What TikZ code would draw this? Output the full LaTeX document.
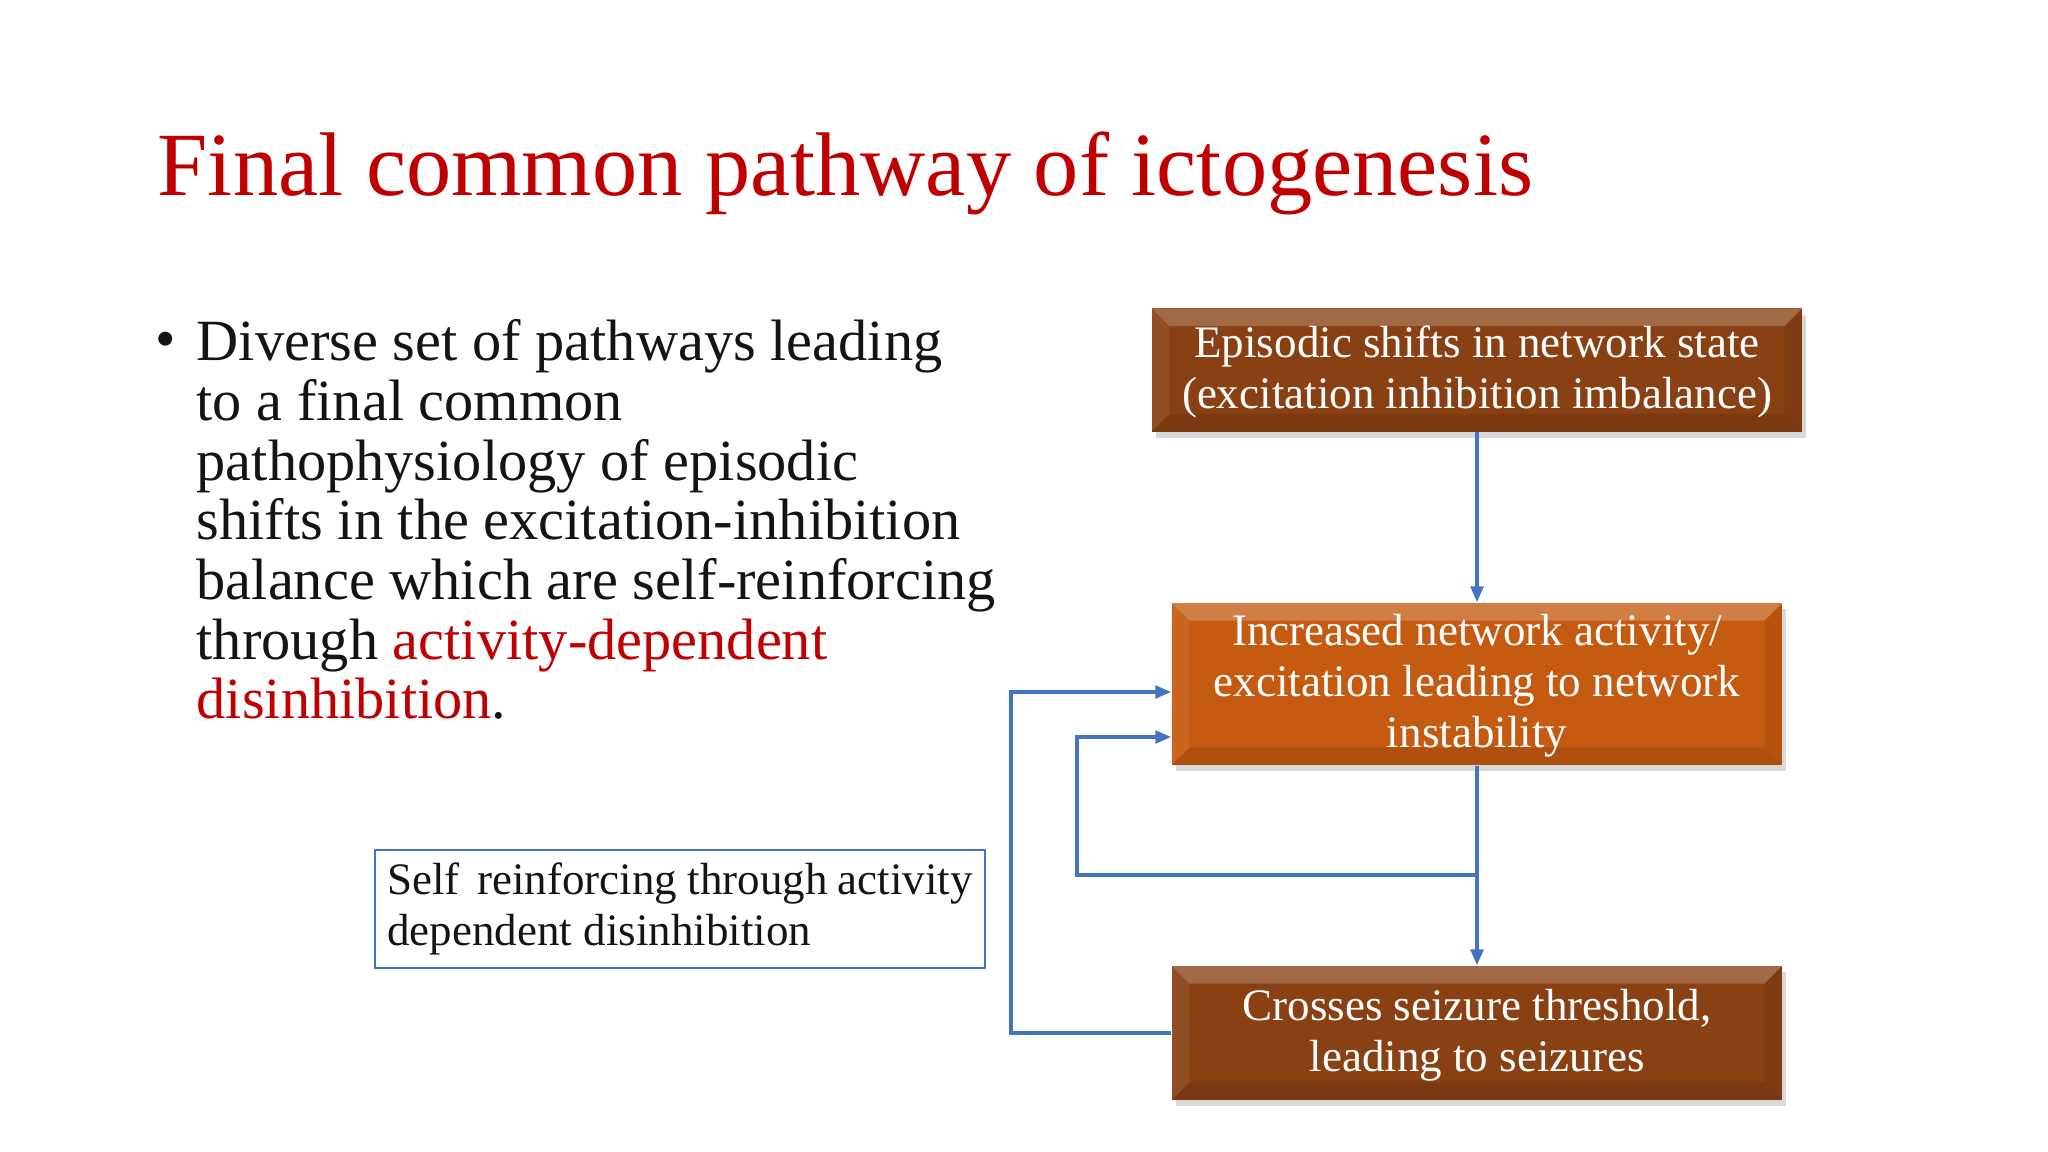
\documentclass[tikz,border=0pt]{standalone}
\usepackage{fontspec}
\setmainfont{Liberation Serif}
\usetikzlibrary{arrows.meta, positioning, shadows}

\definecolor{titlered}{RGB}{192,0,0}
\definecolor{brownbox}{RGB}{137,64,19}
\definecolor{orangebox}{RGB}{197,90,17}
\definecolor{linkblue}{RGB}{68,114,196}
\definecolor{ink}{RGB}{20,20,20}

\begin{document}
\begin{tikzpicture}[
    x=0.01cm, y=-0.01cm,
    bev/.style={path picture={
        \fill[white, opacity=0.22] (path picture bounding box.north west) -- (path picture bounding box.north east)
            -- ([shift={(-5pt,-5pt)}]path picture bounding box.north east) -- ([shift={(5pt,-5pt)}]path picture bounding box.north west) -- cycle;
        \fill[white, opacity=0.07] (path picture bounding box.north west) -- ([shift={(5pt,-5pt)}]path picture bounding box.north west)
            -- ([shift={(5pt,5pt)}]path picture bounding box.south west) -- (path picture bounding box.south west) -- cycle;
        \fill[black, opacity=0.07] (path picture bounding box.north east) -- ([shift={(-5pt,-5pt)}]path picture bounding box.north east)
            -- ([shift={(-5pt,5pt)}]path picture bounding box.south east) -- (path picture bounding box.south east) -- cycle;
        \fill[black, opacity=0.1] (path picture bounding box.south west) -- ([shift={(5pt,5pt)}]path picture bounding box.south west)
            -- ([shift={(-5pt,5pt)}]path picture bounding box.south east) -- (path picture bounding box.south east) -- cycle;
    }},
    b/.style={rectangle, bev, text=white, align=center, inner sep=0pt, font=\fontsize{12.8}{14.5}\selectfont,
        drop shadow={shadow xshift=1.2pt, shadow yshift=-1.8pt, opacity=0.25, fill=black!60}},
    s/.style={rectangle, draw=linkblue, line width=0.6pt, align=flush left, text=ink, inner xsep=0.12cm, inner ysep=0pt,
        text width=5.85cm, minimum height=1.18cm, font=\fontsize{12.8}{14.5}\selectfont},
    a/.style={-{Triangle[length=4.5pt, width=3.6pt]}, linkblue, line width=1pt},
]
\useasboundingbox (0,0) rectangle (2048,1152);

% Title
\node[anchor=base west, inner sep=0pt, text=titlered, font=\fontsize{25.7}{30}\selectfont] (title) at (157,196) {Final common pathway of ictogenesis};

% Bullet
\node[anchor=base, inner sep=0pt, text=ink, font=\fontsize{16.6}{17}\selectfont] (dot) at (166,359) {\textbullet};
\node[anchor=north west, inner sep=0pt, align=left, text=ink, font=\fontsize{16.6}{16.96}\selectfont] (txt) at (196,319)
    {Diverse set of pathways leading\\
     to a final common\\
     pathophysiology of episodic\\
     shifts in the excitation-inhibition\\
     balance which are self-reinforcing\\
     through \textcolor{titlered}{activity-dependent}\\
     \textcolor{titlered}{disinhibition}.};

% Pathway
\node[b, fill=brownbox, minimum width=6.5cm, minimum height=1.23cm] (ep) at (1477,370)
    {\strut Episodic shifts in network state\\(excitation inhibition imbalance)};
\node[b, fill=orangebox, minimum width=6.1cm, minimum height=1.62cm] (inc) at (1477,684)
    {\strut Increased network activity/\\excitation leading to network\\instability};
\node[b, fill=brownbox, minimum width=6.1cm, minimum height=1.34cm] (cross) at (1477,1033)
    {\strut Crosses seizure threshold,\\leading to seizures};

% Note
\node[s] (self) at (680,909) {Self\, reinforcing through activity\\dependent disinhibition};

% Arrows
\coordinate (jn) at (inc.south |- 0,875);
\coordinate (in1) at (1077,737);
\coordinate (out1) at (1011,692);

\draw[a] (ep) -- (inc);
\draw[a] (inc) -- (cross);
\draw[a] (jn) -| (in1) -- (inc.west |- in1);
\draw[a] (cross.west) -| (out1) -- (inc.west |- out1);
\end{tikzpicture}
\end{document}
